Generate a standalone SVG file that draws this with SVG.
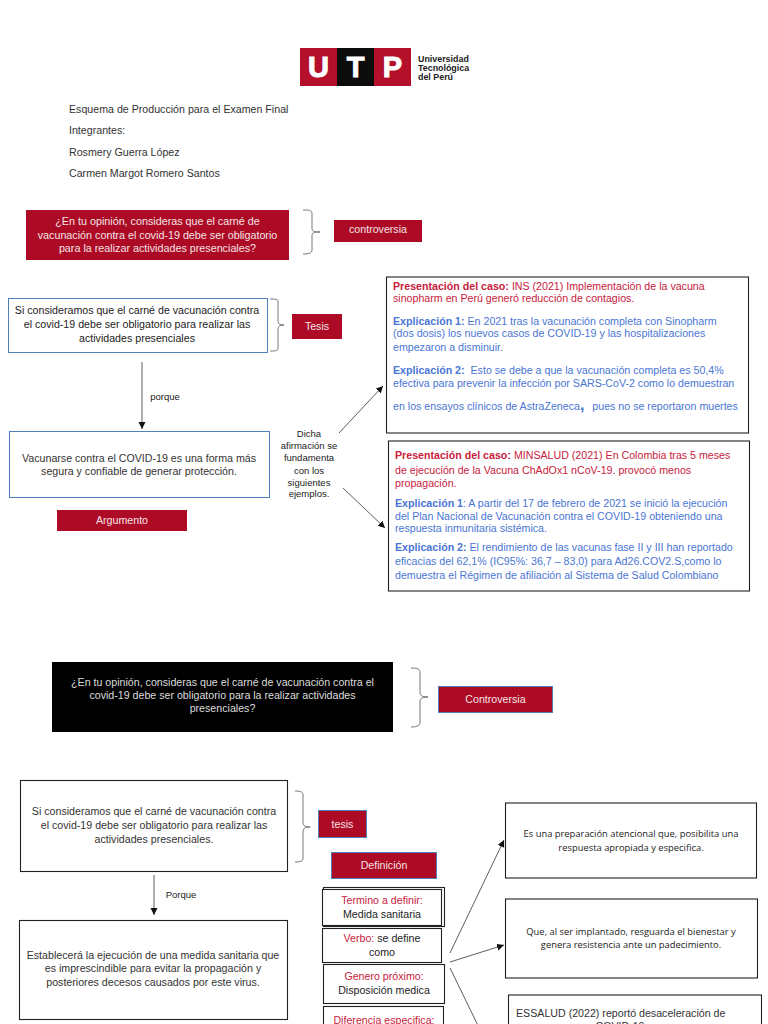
<svg xmlns="http://www.w3.org/2000/svg" width="768" height="1024" viewBox="0 0 768 1024">
<style>
text{font-family:"Liberation Sans",Arial,sans-serif;font-size:10.65px;fill:#333;text-anchor:middle}
.l{text-anchor:start}
.w{fill:#f3e3e6}
.wt{fill:#f3e3e6;font-size:10.75px}
.r{fill:#c8213d}
.b{fill:#4a76d4}
.rb{fill:#c8213d;font-weight:bold}
.bb{fill:#4a76d4;font-weight:bold}
.k{fill:#222}
.red{fill:#ad0b25}
.box{fill:#fff;stroke:#222;stroke-width:1.1}
.blue{fill:#fff;stroke:#4f81bd;stroke-width:1}
.redb{fill:#ad0b25;stroke:#4f81bd;stroke-width:1}
.c{fill:none;stroke:#333;stroke-width:.8}
.br{fill:none;stroke:#555;stroke-width:.8}
.n{font-family:"Open Sans","Noto Sans",sans-serif;font-size:9.4px;fill:#222}
.u{font-size:29px;font-weight:bold;fill:#fff;stroke:#fff;stroke-width:1}
.t{font-size:8.9px;font-weight:bold;fill:#222;text-anchor:start}
</style>
<defs><marker id="a" markerWidth="8" markerHeight="8" refX="7" refY="3.5" orient="auto" markerUnits="userSpaceOnUse"><path d="M0 0L7 3.5L0 7z" fill="#111"/></marker></defs>
<g id="logo">
<rect x="300" y="48" width="37" height="38" fill="#b4102c"/><rect x="337" y="48" width="37" height="38" fill="#0c0c0c"/><rect x="374" y="48" width="37" height="38" fill="#b4102c"/>
<text class="u" x="318.500" y="77">U</text><text class="u" x="355.500" y="77">T</text><text class="u" x="392.500" y="77">P</text>
<text class="t" x="418" y="62">Universidad</text><text class="t" x="418" y="71">Tecnológica</text><text class="t" x="418" y="80">del Perú</text>
</g>
<g id="header">
<text class="l" x="69" y="113">Esquema de Producción para el Examen Final</text>
<text class="l" x="69" y="134">Integrantes:</text>
<text class="l" x="69" y="156">Rosmery Guerra López</text>
<text class="l" x="69" y="177">Carmen Margot Romero Santos</text>
</g>
<g id="connectors">
<path class="br" d="M303 210C309 210 312 210 312 214V228C312 231 313 232 320 232C313 232 312 233 312 236V250C312 253 309 254 303 254"/>
<path class="br" d="M270 299C276 299 278 299 278 302V320C278 324 279 325 284 325C279 325 278 327 278 330V348C278 351 276 351 270 351"/>
<path class="c" d="M142 362V429" marker-end="url(#a)"/>
<path class="c" d="M339 433L383 386" marker-end="url(#a)"/>
<path class="c" d="M343 488L385 528" marker-end="url(#a)"/>
<path class="br" d="M411 668C418 668 420 669 420 673V692C420 695 421 697 428 697C421 697 420 699 420 702V722C420 725 418 727 411 727"/>
<path class="br" d="M295 791C301 791 303 792 303 795V822C303 825 304 827 310 827C304 827 303 829 303 832V858C303 861 301 862 295 862"/>
<path class="c" d="M154 875V915" marker-end="url(#a)"/>
<path class="c" d="M450 953L504 840" marker-end="url(#a)"/>
<path class="c" d="M450 962L504 945" marker-end="url(#a)"/>
<path class="c" d="M450 968L485 1040"/>
</g>
<g id="controversia1">
<rect class="red" x="26" y="210" width="263" height="50"/>
<text class="wt" x="157.500" y="225">¿En tu opinión, consideras que el carné de</text>
<text class="wt" x="157.500" y="239">vacunación contra el covid-19 debe ser obligatorio</text>
<text class="wt" x="157.500" y="252">para la realizar actividades presenciales?</text>
</g>
<g id="controversia1-label"><rect class="red" x="334" y="220" width="88" height="22"/><text class="w" x="378" y="233">controversia</text></g>
<g id="tesis1">
<rect class="blue" x="8.500" y="298.500" width="259" height="54"/>
<text class="k" x="137" y="314">Si consideramos que el carné de vacunación contra</text>
<text class="k" x="137" y="328">el covid-19 debe ser obligatorio para realizar las</text>
<text class="k" x="137" y="342">actividades presenciales</text>
</g>
<g id="tesis1-label"><rect class="red" x="292" y="314" width="50" height="25"/><text class="w" x="317" y="330">Tesis</text></g>
<g id="porque1"><text class="k" x="165" y="400" style="font-size:9.500px">porque</text></g>
<g id="argumento">
<rect class="blue" x="9.500" y="431.500" width="260" height="66"/>
<text x="139" y="462">Vacunarse contra el COVID-19 es una forma más</text>
<text x="139" y="475">segura y confiable de generar protección.</text>
</g>
<g id="argumento-label"><rect class="red" x="57" y="510" width="130" height="21"/><text class="w" x="122" y="524">Argumento</text></g>
<g id="dicha">
<text class="k" x="309" y="437" style="font-size:9.500px">Dicha</text>
<text class="k" x="309" y="449" style="font-size:9.500px">afirmación se</text>
<text class="k" x="309" y="461" style="font-size:9.500px">fundamenta</text>
<text class="k" x="309" y="474" style="font-size:9.500px">con los</text>
<text class="k" x="309" y="486" style="font-size:9.500px">siguientes</text>
<text class="k" x="309" y="497" style="font-size:9.500px">ejemplos.</text>
</g>
<g id="caso1">
<rect class="box" x="386.500" y="277" width="362" height="156"/>
<text class="l r" x="393" y="290"><tspan class="rb">Presentación del caso:</tspan> INS (2021) Implementación de la vacuna</text>
<text class="l r" x="393" y="302">sinopharm en Perú generó reducción de contagios.</text>
<text class="l b" x="393" y="325"><tspan class="bb">Explicación 1:</tspan> En 2021 tras la vacunación completa con Sinopharm</text>
<text class="l b" x="393" y="337">(dos dosis) los nuevos casos de COVID-19 y las hospitalizaciones</text>
<text class="l b" x="393" y="351">empezaron a disminuir.</text>
<text class="l b" x="393" y="374"><tspan class="bb">Explicación 2:</tspan><tspan dx="3"> Esto se debe a que la vacunación completa es 50,4%</tspan></text>
<text class="l b" x="393" y="387">efectiva para prevenir la infección por SARS-CoV-2 como lo demuestran</text>
<text class="l b" x="393" y="410">en los ensayos clínicos de AstraZeneca<tspan style="font-size:16px;font-weight:bold">,</tspan><tspan dx="5"> pues no se reportaron muertes</tspan></text>
</g>
<g id="caso2">
<rect class="box" x="388.500" y="441" width="361" height="150"/>
<text class="l r" x="395" y="459"><tspan class="rb">Presentación del caso:</tspan> MINSALUD (2021) En Colombia tras 5 meses</text>
<text class="l r" x="395" y="474">de ejecución de la Vacuna ChAdOx1 nCoV-19. provocó menos</text>
<text class="l r" x="395" y="487">propagación.</text>
<text class="l b" x="395" y="507"><tspan class="bb">Explicación 1</tspan>: A partir del 17 de febrero de 2021 se inició la ejecución</text>
<text class="l b" x="395" y="520">del Plan Nacional de Vacunación contra el COVID-19 obteniendo una</text>
<text class="l b" x="395" y="532">respuesta inmunitaria sistémica.</text>
<text class="l b" x="395" y="551"><tspan class="bb">Explicación 2:</tspan> El rendimiento de las vacunas fase II y III han reportado</text>
<text class="l b" x="395" y="565">eficacias del 62,1% (IC95%: 36,7 – 83,0) para Ad26.COV2.S,como lo</text>
<text class="l b" x="395" y="579">demuestra el Régimen de afiliación al Sistema de Salud Colombiano</text>
</g>
<g id="controversia2">
<rect x="52" y="662" width="341" height="70" fill="#000"/>
<text x="222.500" y="686" style="fill:#ddd">¿En tu opinión, consideras que el carné de vacunación contra el</text>
<text x="222.500" y="699" style="fill:#ddd">covid-19 debe ser obligatorio para la realizar actividades</text>
<text x="222.500" y="712" style="fill:#ddd">presenciales?</text>
</g>
<g id="controversia2-label"><rect class="redb" x="438.500" y="686.500" width="114" height="26"/><text class="w" x="495.500" y="703">Controversia</text></g>
<g id="tesis2">
<rect class="box" x="20.500" y="780.500" width="267" height="91"/>
<text x="154" y="815">Si consideramos que el carné de vacunación contra</text>
<text x="154" y="829">el covid-19 debe ser obligatorio para realizar las</text>
<text x="154" y="843">actividades presenciales.</text>
</g>
<g id="tesis2-label"><rect class="redb" x="318.500" y="810.500" width="48" height="27"/><text class="w" x="342.500" y="828">tesis</text></g>
<g id="definicion-label"><rect class="redb" x="331.500" y="852.500" width="105" height="26"/><text class="w" x="384" y="869">Definición</text></g>
<g id="porque2"><text class="k" x="181" y="898" style="font-size:9.500px">Porque</text></g>
<g id="establecera">
<rect class="box" x="19.500" y="920.500" width="268" height="99"/>
<text x="153" y="959">Establecerá la ejecución de una medida sanitaria que</text>
<text x="153" y="972">es imprescindible para evitar la propagación y</text>
<text x="153" y="986">posteriores decesos causados por este virus.</text>
</g>
<g id="termino">
<rect class="box" x="323.500" y="887.500" width="121" height="39"/>
<rect class="box" x="322.500" y="889.500" width="119" height="36"/>
<text class="r" x="382" y="904">Termino a definir:</text>
<text class="k" x="382" y="918">Medida sanitaria</text>
</g>
<g id="verbo">
<rect class="box" x="322.500" y="928.500" width="119" height="34"/>
<text class="k" x="382" y="942"><tspan class="r">Verbo:</tspan> se define</text>
<text class="k" x="382" y="956">como</text>
</g>
<g id="genero">
<rect class="box" x="323.500" y="964.500" width="121" height="39"/>
<text class="r" x="384" y="980">Genero próximo:</text>
<text class="k" x="384" y="994">Disposición medica</text>
</g>
<g id="diferencia">
<rect class="box" x="323.500" y="1006.500" width="120" height="30"/>
<text class="r" x="384" y="1024">Diferencia especifica:</text>
</g>
<g id="r1">
<rect class="box" x="505.500" y="803" width="251" height="75"/>
<text class="n" x="631" y="837">Es una preparación atencional que, posibilita una</text>
<text class="n" x="631" y="851">respuesta apropiada y especifica.</text>
</g>
<g id="r2">
<rect class="box" x="505.500" y="899" width="252" height="79"/>
<text class="n" x="631" y="935">Que, al ser implantado, resguarda el bienestar y</text>
<text class="n" x="631" y="948">genera resistencia ante un padecimiento.</text>
</g>
<g id="r3">
<rect class="box" x="508.500" y="995" width="253" height="40"/>
<text class="l" x="516" y="1017">ESSALUD (2022) reportó desaceleración de</text>
<text x="620" y="1030">COVID-19</text>
</g>
</svg>
